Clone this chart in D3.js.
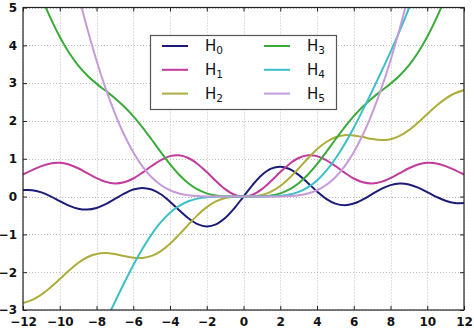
<!DOCTYPE html>
<html>
<head>
<meta charset="utf-8">
<script src="https://cdn.jsdelivr.net/npm/d3@7"></script>
<style>
  html, body { margin: 0; padding: 0; background: #fff; }
  svg { display: block; }
  text { font-family: "DejaVu Sans", sans-serif; }
</style>
</head>
<body>
<svg id="chart" width="474" height="329"></svg>
<script>
// Struve functions H0..H5 sampled on [-12, 12] every 0.5
const xValues = [-12, -11.5, -11, -10.5, -10, -9.5, -9, -8.5, -8, -7.5, -7, -6.5, -6, -5.5, -5, -4.5, -4, -3.5, -3, -2.5, -2, -1.5, -1, -0.5,
  0, 0.5, 1, 1.5, 2, 2.5, 3, 3.5, 4, 4.5, 5, 5.5, 6, 6.5, 7, 7.5, 8, 8.5, 9, 9.5, 10, 10.5, 11, 11.5, 12];

const h0 = [0.173, 0.170, 0.111, 0.006, -0.119, -0.238, -0.320, -0.344, -0.302, -0.201, -0.063, 0.077, 0.185, 0.227, 0.186, 0.061, -0.135, -0.361, -0.574, -0.730, -0.791, -0.737, -0.569, -0.310,
  0, 0.310, 0.569, 0.737, 0.791, 0.730, 0.574, 0.361, 0.135, -0.061, -0.186, -0.227, -0.185, -0.077, 0.063, 0.201, 0.302, 0.344, 0.320, 0.238, 0.119, -0.006, -0.111, -0.170, -0.173];

const h1 = [0.584, 0.699, 0.805, 0.876, 0.892, 0.847, 0.749, 0.619, 0.488, 0.388, 0.346, 0.377, 0.478, 0.632, 0.808, 0.966, 1.070, 1.092, 1.020, 0.863, 0.647, 0.410, 0.198, 0.052,
  0, 0.052, 0.198, 0.410, 0.647, 0.863, 1.020, 1.092, 1.070, 0.966, 0.808, 0.632, 0.478, 0.377, 0.346, 0.388, 0.488, 0.619, 0.749, 0.847, 0.892, 0.876, 0.805, 0.699, 0.584];

const h2 = [-2.816, -2.732, -2.592, -2.401, -2.182, -1.957, -1.756, -1.605, -1.518, -1.494, -1.521, -1.573, -1.617, -1.624, -1.570, -1.443, -1.249, -1.006, -0.742, -0.491, -0.280, -0.129, -0.040, -0.005,
  0, 0.005, 0.040, 0.129, 0.280, 0.491, 0.742, 1.006, 1.249, 1.443, 1.570, 1.624, 1.617, 1.573, 1.521, 1.494, 1.518, 1.605, 1.756, 1.957, 2.182, 2.401, 2.592, 2.732, 2.816];

const h3 = [6.467, 5.864, 5.273, 4.718, 4.225, 3.808, 3.470, 3.203, 2.987, 2.796, 2.602, 2.384, 2.127, 1.832, 1.509, 1.176, 0.858, 0.578, 0.352, 0.188, 0.084, 0.028, 0.006, 0.000,
  0, 0.000, 0.006, 0.028, 0.084, 0.188, 0.352, 0.578, 0.858, 1.176, 1.509, 1.832, 2.127, 2.384, 2.602, 2.796, 2.987, 3.203, 3.470, 3.808, 4.225, 4.718, 5.273, 5.864, 6.467];

const h4 = [null, null, null, null, null, null, null, null, null, -3.300, -2.789, -2.293, -1.819, -1.382, -0.999, -0.678, -0.426, -0.245, -0.125, -0.054, -0.019, -0.005, -0.001, 0.000,
  0, 0.000, 0.001, 0.005, 0.019, 0.054, 0.125, 0.245, 0.426, 0.678, 0.999, 1.382, 1.819, 2.293, 2.789, 3.300, 3.827, 4.379, 4.977, 5.646, null, null, null, null, null];

const h5 = [null, null, null, null, null, 6.382, 5.374, 4.436, 3.599, 2.856, 2.203, 1.641, 1.172, 0.797, 0.511, 0.305, 0.167, 0.082, 0.035, 0.013, 0.004, 0.001, 0.000, 0.000,
  0, 0.000, 0.000, 0.001, 0.004, 0.013, 0.035, 0.082, 0.167, 0.305, 0.511, 0.797, 1.172, 1.641, 2.203, 2.856, 3.599, 4.436, 5.374, 6.382, null, null, null, null, null];

const seriesNames = ["H0", "H1", "H2", "H3", "H4", "H5"];
const seriesValues = [h0, h1, h2, h3, h4, h5];
const seriesColors = ["#1c1c78", "#c23b9c", "#adad3c", "#3aab3a", "#3cbfc6", "#c59bd9"];

const xTicks = [-12, -10, -8, -6, -4, -2, 0, 2, 4, 6, 8, 10, 12];
const yTicks = [-3, -2, -1, 0, 1, 2, 3, 4, 5];

const svg = d3.select("#chart");
const margin = { left: 23, right: 10, top: 7.5, bottom: 19 };
const W = 474, H = 329;
const x = d3.scaleLinear().domain([-12, 12]).range([margin.left, W - margin.right]);
const y = d3.scaleLinear().domain([-3, 5]).range([H - margin.bottom, margin.top]);

svg.append("defs").append("clipPath").attr("id", "plot-clip")
  .append("rect")
  .attr("x", x(-12)).attr("y", y(5))
  .attr("width", x(12) - x(-12)).attr("height", y(-3) - y(5));

// dotted grid
const grid = svg.append("g").attr("stroke", "#bdbdbd").attr("stroke-width", 1).attr("stroke-dasharray", "1,2");
xTicks.forEach(t => grid.append("line")
  .attr("x1", Math.round(x(t)) + 0.5).attr("x2", Math.round(x(t)) + 0.5)
  .attr("y1", y(5)).attr("y2", y(-3)));
yTicks.forEach(t => grid.append("line")
  .attr("y1", Math.round(y(t)) + 0.5).attr("y2", Math.round(y(t)) + 0.5)
  .attr("x1", x(-12)).attr("x2", x(12)));

// curves
const line = d3.line()
  .defined(d => d[1] !== null)
  .x(d => x(d[0]))
  .y(d => y(d[1]))
  .curve(d3.curveCatmullRom.alpha(0.5));

const curves = svg.append("g").attr("clip-path", "url(#plot-clip)");
seriesValues.forEach((vals, i) => {
  curves.append("path")
    .datum(xValues.map((xv, j) => [xv, vals[j]]))
    .attr("fill", "none")
    .attr("stroke", seriesColors[i])
    .attr("stroke-width", 2)
    .attr("d", line);
});

// axes with inward ticks on all four sides
const tickStyle = g => {
  g.select(".domain").remove();
  g.selectAll(".tick line").attr("stroke", "#222");
  g.selectAll(".tick text").attr("font-family", "DejaVu Sans, sans-serif")
    .attr("font-size", 12).attr("font-weight", "bold").attr("fill", "#111");
};
const fmt = d => d < 0 ? "\u2212" + Math.abs(d) : String(d);

svg.append("g").attr("transform", `translate(0,${y(-3)})`)
  .call(d3.axisBottom(x).tickValues(xTicks).tickFormat(fmt).tickSizeInner(-4).tickPadding(7))
  .call(tickStyle);
svg.append("g").attr("transform", `translate(0,${y(5)})`)
  .call(d3.axisTop(x).tickValues(xTicks).tickFormat("").tickSizeInner(-4))
  .call(tickStyle);
svg.append("g").attr("transform", `translate(${x(-12)},0)`)
  .call(d3.axisLeft(y).tickValues(yTicks).tickFormat(fmt).tickSizeInner(-4).tickPadding(6))
  .call(tickStyle);
svg.append("g").attr("transform", `translate(${x(12)},0)`)
  .call(d3.axisRight(y).tickValues(yTicks).tickFormat("").tickSizeInner(-4))
  .call(tickStyle);

// frame
svg.append("rect")
  .attr("x", x(-12)).attr("y", y(5))
  .attr("width", x(12) - x(-12)).attr("height", y(-3) - y(5))
  .attr("fill", "none").attr("stroke", "#222").attr("stroke-width", 1.2);

// legend
const legend = svg.append("g");
legend.append("rect")
  .attr("x", 150.5).attr("y", 35.5).attr("width", 186).attr("height", 74)
  .attr("fill", "#fff").attr("stroke", "#555").attr("stroke-width", 1.2);
seriesNames.forEach((name, i) => {
  const col = Math.floor(i / 3), row = i % 3;
  const lx = 162 + col * 102;
  const ly = 46 + row * 23.8;
  legend.append("line")
    .attr("x1", lx).attr("x2", lx + 26)
    .attr("y1", ly).attr("y2", ly)
    .attr("stroke", seriesColors[i]).attr("stroke-width", 2);
  const t = legend.append("text")
    .attr("x", lx + 43).attr("y", ly + 5)
    .attr("font-size", 15).attr("fill", "#111");
  t.append("tspan").text(name[0]);
  t.append("tspan").attr("font-size", 10.5).attr("dy", 3).text(name.slice(1));
});
</script>
</body>
</html>
